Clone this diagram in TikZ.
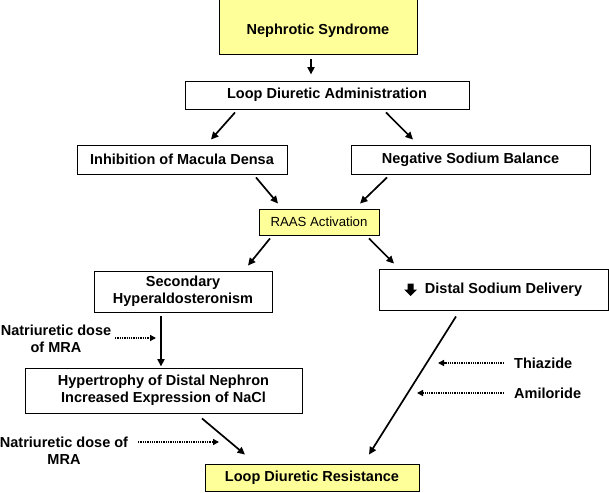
\documentclass[tikz,border=0pt]{standalone}
\usepackage{fontspec}
\setmainfont{Liberation Sans}
\usetikzlibrary{arrows.meta}
\definecolor{boxyellow}{HTML}{FFFF99}
\begin{document}
\begin{tikzpicture}[x=1pt,y=-1pt,
  font=\fontsize{14.5}{17}\selectfont\bfseries,
  box/.style={draw=black,line width=0.9pt,inner sep=0pt,align=center,fill=white},
  ybox/.style={box,fill=boxyellow},
  lbl/.style={inner sep=0pt,align=center},
  arr/.style={line width=1.7pt,-{Triangle[length=7.5pt,width=7pt]}},
  darr/.style={line width=1.4pt,dash pattern=on 1.3pt off 1pt,-{Triangle[length=6pt,width=6pt]}}]
\useasboundingbox (0,0) rectangle (609,492);

% nodes
\node[ybox,minimum width=198pt,minimum height=55pt] (ns) at (318,26.5) {};
\node[lbl] (nst) at (318,31) {Nephrotic Syndrome};
\node[box,minimum width=284pt,minimum height=28pt] (lda) at (327,95) {Loop Diuretic Administration};
\node[box,minimum width=210pt,minimum height=29pt] (imd) at (182,159.5) {Inhibition of Macula Densa};
\node[box,minimum width=239pt,minimum height=29pt] (nsb) at (470.5,159.5) {Negative Sodium Balance};
\node[ybox,minimum width=120pt,minimum height=26pt,font=\fontsize{13.2}{15}\selectfont] (raas) at (319,222) {RAAS Activation};
\node[box,minimum width=178pt,minimum height=41pt] (sh) at (183,291.5) {Secondary\\Hyperaldosteronism};
\node[box,minimum width=229pt,minimum height=41pt] (dsd) at (493.5,289.5) {\hspace{20pt}Distal Sodium Delivery};
\node[box,minimum width=277pt,minimum height=45pt] (hdn) at (163.5,390.5) {Hypertrophy of Distal Nephron\\Increased Expression of NaCl};
\node[ybox,minimum width=214pt,minimum height=27pt] (ldr) at (312,477.5) {Loop Diuretic Resistance};

% down arrow glyph
\fill ([xshift=-83pt]dsd.center) ++(-3,-6) -- ++(6,0) -- ++(0,6) -- ++(3.5,0) -- ++(-6.5,6.5) -- ++(-6.5,-6.5) -- ++(3.5,0) -- cycle;

% side labels
\node[lbl] (mra1) at (56,338.5) {Natriuretic dose\\of MRA};
\node[lbl] (mra2) at (64,451) {Natriuretic dose of\\MRA};
\node[lbl,anchor=west] (thz) at (514,363) {Thiazide};
\node[lbl,anchor=west] (aml) at (514,393) {Amiloride};

\coordinate (m1s) at (115,338);
\coordinate (m1e) at (156,338);
\coordinate (m2s) at (138,442);
\coordinate (m2e) at (219,442);
\coordinate (ts) at (504,363);
\coordinate (te) at (438,363);
\coordinate (as) at (504,393);
\coordinate (ae) at (417,393);

% connectors
\draw[arr] ([xshift=-7pt,yshift=-5pt]ns.south) -- ([xshift=-16pt,yshift=6pt]lda.north);
\draw[arr] ([xshift=-92pt,yshift=-3pt]lda.south) -- ([xshift=29pt,yshift=5pt]imd.north);
\draw[arr] ([xshift=59pt,yshift=-3pt]lda.south) -- ([xshift=-57.5pt,yshift=5pt]nsb.north);
\draw[arr] ([xshift=74pt,yshift=-3pt]imd.south) -- ([xshift=-41pt,yshift=5pt]raas.north);
\draw[arr] ([xshift=-83.5pt,yshift=-3pt]nsb.south) -- ([xshift=41pt,yshift=5pt]raas.north);
\draw[arr] ([xshift=-49pt,yshift=-3pt]raas.south) -- ([xshift=65pt,yshift=5pt]sh.north);
\draw[arr] ([xshift=50pt,yshift=-3pt]raas.south) -- ([xshift=-99.5pt,yshift=5pt]dsd.north);
\draw[arr] ([xshift=-22pt,yshift=-4pt]sh.south) -- ([xshift=-2.5pt,yshift=1pt]hdn.north);
\draw[arr] ([xshift=38.5pt,yshift=-5pt]hdn.south) -- ([xshift=-67pt,yshift=9pt]ldr.north);
\draw[arr] ([xshift=-37.5pt,yshift=-6pt]dsd.south) -- ([xshift=57pt,yshift=9pt]ldr.north);

\draw[darr] (m1s) -- (m1e);
\draw[darr] (m2s) -- (m2e);
\draw[darr] (ts) -- (te);
\draw[darr] (as) -- (ae);
\end{tikzpicture}
\end{document}
